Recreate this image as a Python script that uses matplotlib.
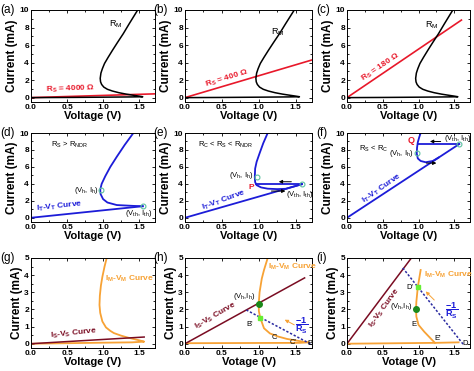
import matplotlib
matplotlib.use("Agg")
import matplotlib.pyplot as plt
from matplotlib.ticker import MultipleLocator

plt.rcParams['font.family'] = ['Liberation Sans', 'DejaVu Sans']
plt.rcParams['mathtext.fontset'] = 'custom'
plt.rcParams['mathtext.rm'] = 'Liberation Sans'
plt.rcParams['mathtext.it'] = 'Liberation Sans:italic'
plt.rcParams['mathtext.bf'] = 'Liberation Sans:bold'
plt.rcParams['mathtext.default'] = 'regular'

BLUE = '#1c1cd8'
RED = '#e8182a'
ORANGE = '#f7a235'
DRED = '#7a0c22'
NAVY = '#2a2aa0'

# ---- row 1: memristor S-curve (V, I) ----
rm_v = [0.0, 0.5, 1.0, 1.4, 1.55, 1.5, 1.42, 1.32, 1.22, 1.13, 1.06, 1.01, 0.98,
        0.965, 0.96, 0.97, 0.99, 1.02, 1.07, 1.13, 1.2, 1.28, 1.36, 1.48]
rm_i = [0.0, 0.02, 0.05, 0.08, 0.1, 0.17, 0.27, 0.4, 0.56, 0.75, 0.95, 1.2, 1.5,
        1.8, 2.2, 2.8, 3.3, 3.9, 4.6, 5.4, 6.3, 7.3, 8.4, 10.0]
rs_a_v, rs_a_i = [0.0, 1.72], [0.0, 0.43]
rs_b_v, rs_b_i = [0.0, 1.72], [0.0, 4.3]
rs_c_v, rs_c_i = [0.0, 1.6], [0.0, 8.85]

# ---- row 2: total I_T-V_T curves ----
d_line_v, d_line_i = [0.0, 1.55], [0.0, 1.36]
d_v = [1.55, 1.42, 1.19, 1.06, 1.0, 0.965, 0.96, 0.98, 1.03, 1.1, 1.19, 1.3, 1.42]
d_i = [1.36, 1.4, 1.5, 1.8, 2.2, 2.8, 3.3, 4.0, 4.9, 6.0, 7.2, 8.6, 10.0]
d_pts_v, d_pts_i = [0.965, 1.55], [3.3, 1.4]

e_line_v, e_line_i = [0.0, 1.58], [0.0, 3.95]
e_v = [1.58, 1.45, 1.37, 1.25, 1.12, 1.03, 0.97, 0.95, 0.945, 0.95, 0.97, 1.01, 1.06, 1.12]
e_i = [3.95, 3.63, 3.42, 3.38, 3.43, 3.58, 3.85, 4.2, 4.8, 5.8, 6.6, 7.6, 8.8, 10.0]
e_jump_v, e_jump_i = [1.58, 0.955], [3.97, 3.97]
e_pts_v, e_pts_i = [0.975, 1.58], [4.8, 3.95]

f_line_v, f_line_i = [0.0, 1.57], [0.0, 8.7]
f_v = [1.28, 1.2, 1.1, 1.03, 0.99, 0.975, 0.98, 0.99, 1.01, 1.03]
f_i = [7.1, 6.7, 6.55, 6.7, 7.0, 7.6, 8.3, 8.9, 9.5, 10.0]
f_jump_v, f_jump_i = [1.57, 0.99], [8.7, 8.7]
f_pts_v, f_pts_i = [0.985, 1.57], [7.6, 8.7]

# ---- row 3: load-line analysis ----
g_v = [0.0, 0.5, 1.0, 1.4, 1.57, 1.5, 1.43, 1.35, 1.25, 1.15, 1.1, 1.04, 0.99,
       0.96, 0.95, 0.955, 0.97, 0.99, 1.02, 1.05]
g_i = [0.0, 0.03, 0.06, 0.08, 0.12, 0.2, 0.27, 0.35, 0.47, 0.62, 0.75, 0.95, 1.3,
       1.8, 2.26, 2.8, 3.4, 3.9, 4.5, 5.0]
g_s_v, g_s_i = [0.0, 1.57], [0.0, 0.39]

h_v = [1.12, 1.07, 1.04, 1.01, 1.0, 1.0, 1.02, 1.07, 1.15, 1.26, 1.38, 1.5, 1.6, 1.67]
h_i = [5.0, 4.3, 3.8, 3.0, 2.4, 1.9, 1.5, 0.9, 0.6, 0.42, 0.28, 0.19, 0.12, 0.08]
h_low_v, h_low_i = [0.0, 1.55, 1.67], [0.03, 0.05, 0.08]
h_s_v, h_s_i = [0.0, 1.62], [0.0, 3.84]
h_load_v, h_load_i = [0.83, 1.72], [1.97, -0.06]
h_vh, h_ih = 1.0, 2.33
h_b_v, h_b_i = 1.02, 1.52

i_v = [1.03, 1.01, 0.99, 0.97, 0.965, 0.97, 1.0, 1.08, 1.16, 1.23]
i_i = [4.3, 3.8, 3.3, 2.45, 2.0, 1.58, 1.1, 0.7, 0.35, 0.05]
i_low_v, i_low_i = [0.0, 1.23, 1.56], [0.0, 0.05, 0.08]
i_s_v, i_s_i = [0.0, 0.9], [0.0, 5.0]
i_load_v, i_load_i = [0.78, 1.63], [4.42, -0.06]
i_vh, i_ih = 0.965, 2.0
i_d_v, i_d_i = 0.99, 3.28

fig = plt.figure(figsize=(4.74, 3.71), dpi=100)
W, H = 474.0, 371.0
cols = [(31, 155), (185, 312), (347, 470)]
rows = [(10, 102), (133, 222), (258, 348)]


def make_ax(r, c, ymax, ystep, xlab='Voltage (V)'):
    x0, x1 = cols[c]
    y0, y1 = rows[r]
    ax = fig.add_axes([x0 / W, 1 - y1 / H, (x1 - x0) / W, (y1 - y0) / H])
    ax.set_xlim(0, 1.72)
    if ymax == 10:
        ax.set_ylim(-0.5, 10)
    else:
        ax.set_ylim(-0.25, 5)
    ax.xaxis.set_major_locator(MultipleLocator(0.5))
    ax.xaxis.set_minor_locator(MultipleLocator(0.25))
    ax.yaxis.set_major_locator(MultipleLocator(ystep))
    ax.yaxis.set_minor_locator(MultipleLocator(ystep / 2))
    ax.tick_params(which='both', direction='in', top=True, right=True,
                   labelsize=6, pad=1.5, width=0.6)
    ax.tick_params(which='major', length=2.5)
    ax.tick_params(which='minor', length=1.5)
    for lab in ax.get_xticklabels() + ax.get_yticklabels():
        lab.set_fontweight('bold')
    for s in ax.spines.values():
        s.set_linewidth(0.7)
    ax.set_xlabel(xlab, fontsize=8, fontweight='bold', labelpad=0)
    ax.set_ylabel('Current (mA)', fontsize=8.5, fontweight='bold', labelpad=1)
    return ax


def panel_label(ax, txt):
    ax.text(-0.25, 1.0, txt, transform=ax.transAxes, fontsize=8.5,
            ha='left', va='center')


def arrow(ax, x0, y0, x1, y1, color='black'):
    ax.annotate('', xy=(x1, y1), xytext=(x0, y0),
                arrowprops=dict(arrowstyle='-|>', color=color, lw=0.7,
                                mutation_scale=5, shrinkA=0, shrinkB=0))


# ---------------- row 1 ----------------
red_labels = [r'R$_\mathbf{S}$ = 4000 Ω', r'R$_\mathbf{S}$ = 400 Ω', r'R$_\mathbf{S}$ = 180 Ω']
red_v = [rs_a_v, rs_b_v, rs_c_v]
red_i = [rs_a_i, rs_b_i, rs_c_i]
red_pos = [(0.2, 0.95, 2), (0.57, 2.2, 17), (0.47, 3.5, 34)]
rm_pos = [(1.18, 8.4), (1.25, 7.5), (1.18, 8.3)]
for c, tag in enumerate(['(a)', '(b)', '(c)']):
    ax = make_ax(0, c, 10, 2)
    ax.plot(rm_v, rm_i, color='black', lw=1.1, zorder=3)
    ax.plot(red_v[c], red_i[c], color=RED, lw=1.2, zorder=2)
    x, y, rot = red_pos[c]
    ax.text(x, y, red_labels[c], color=RED, fontsize=6, fontweight='bold',
            rotation=rot, ha='left' if c == 0 else 'center', va='center')
    ax.text(rm_pos[c][0], rm_pos[c][1], r'R$_M$', fontsize=6.5, ha='center', va='center')
    panel_label(ax, tag)

# ---------------- row 2 ----------------
ax = make_ax(1, 0, 10, 2)
ax.plot(d_line_v, d_line_i, color=BLUE, lw=1.3)
ax.plot(d_v, d_i, color=BLUE, lw=1.3)
ax.plot(d_pts_v, d_pts_i, 'o', ms=3.5, mfc='none', mec='#5cc0a0', mew=0.8)
ax.text(0.28, 8.6, r'R$_S$ > R$_{NDR}$', fontsize=5.5, va='center')
ax.text(0.93, 3.2, r'(V$_h$, I$_h$)', fontsize=5.5, ha='right', va='center')
ax.text(1.5, 0.55, r'(V$_{th}$, I$_{th}$)', fontsize=5.5, ha='center', va='center')
ax.text(0.4, 1.3, r'$\mathbf{I_T}$-$\mathbf{V_T}$ Curve', color=BLUE, fontsize=6,
        fontweight='bold', rotation=6, ha='center', va='center')
panel_label(ax, '(d)')

ax = make_ax(1, 1, 10, 2)
ax.plot(e_line_v, e_line_i, color=BLUE, lw=1.3)
ax.plot(e_v, e_i, color=BLUE, lw=1.3)
ax.plot(e_jump_v, e_jump_i, color=BLUE, lw=1.3)
ax.plot(e_pts_v, e_pts_i, 'o', ms=3.5, mfc='none', mec='#5cc0a0', mew=0.8)
arrow(ax, 1.44, 4.25, 1.27, 4.25)
arrow(ax, 1.17, 3.15, 1.36, 3.15)
ax.text(0.17, 8.6, r'R$_C$ < R$_S$ < R$_{NDR}$', fontsize=5.5, va='center')
ax.text(0.93, 4.95, r'(V$_h$, I$_h$)', fontsize=5.5, ha='right', va='center')
ax.text(1.55, 2.8, r'(V$_{th}$, I$_{th}$)', fontsize=5.5, ha='center', va='center')
ax.text(0.93, 3.6, 'P', color=RED, fontsize=6, fontweight='bold', ha='right', va='center')
ax.text(0.53, 2.1, r'$\mathbf{I_T}$-$\mathbf{V_T}$ Curve', color=BLUE, fontsize=6,
        fontweight='bold', rotation=20, ha='center', va='center')
panel_label(ax, '(e)')

ax = make_ax(1, 2, 10, 2)
ax.plot(f_line_v, f_line_i, color=BLUE, lw=1.3)
ax.plot(f_v, f_i, color=BLUE, lw=1.3)
ax.plot(f_jump_v, f_jump_i, color=BLUE, lw=1.3)
ax.plot(f_pts_v, f_pts_i, 'o', ms=3.5, mfc='none', mec='#5cc0a0', mew=0.8)
arrow(ax, 1.31, 9.0, 1.16, 9.0)
arrow(ax, 1.11, 6.45, 1.25, 6.45)
ax.text(0.17, 8.1, r'R$_S$ < R$_C$', fontsize=5.5, va='center')
ax.text(0.93, 7.6, r'(V$_h$, I$_h$)', fontsize=5.5, ha='right', va='center')
ax.text(1.55, 9.4, r'(V$_{th}$, I$_{th}$)', fontsize=5.5, ha='center', va='center')
ax.text(0.95, 9.1, 'Q', color=RED, fontsize=6.5, fontweight='bold', ha='right', va='center')
ax.text(0.49, 3.5, r'$\mathbf{I_T}$-$\mathbf{V_T}$ Curve', color=BLUE, fontsize=6,
        fontweight='bold', rotation=35, ha='center', va='center')
panel_label(ax, '(f)')

# ---------------- row 3 ----------------
ax = make_ax(2, 0, 5, 1)
ax.plot(g_v, g_i, color=ORANGE, lw=1.3)
ax.plot(g_s_v, g_s_i, color=DRED, lw=1.1)
ax.text(1.03, 3.8, r'$\mathbf{I_M}$-$\mathbf{V_M}$ Curve', color=ORANGE, fontsize=6,
        fontweight='bold', ha='left', va='center')
ax.text(0.6, 0.6, r'$\mathbf{I_S}$-$\mathbf{V_S}$ Curve', color=DRED, fontsize=6,
        fontweight='bold', rotation=6, ha='center', va='center')
panel_label(ax, '(g)')

ax = make_ax(2, 1, 5, 1, 'Votage (V)')
ax.plot(h_low_v, h_low_i, color=ORANGE, lw=1.3)
ax.plot(h_v, h_i, color=ORANGE, lw=1.3)
ax.plot(h_s_v, h_s_i, color=DRED, lw=1.1)
ax.plot(h_load_v, h_load_i, color=NAVY, lw=1.1, ls=(0, (1.5, 1.2)))
ax.plot(h_vh, h_ih, 'o', ms=4, color='#1b8a1b', zorder=5)
ax.plot(h_b_v, h_b_i, 's', ms=3.5, color='#66ee33', zorder=5)
arrow(ax, 1.48, 1.1, 1.35, 1.4, ORANGE)
ax.text(1.12, 4.5, r'$\mathbf{I_M}$-$\mathbf{V_M}$ Curve', color=ORANGE, fontsize=6,
        fontweight='bold', ha='left', va='center')
ax.text(0.42, 1.6, r'$\mathbf{I_S}$-$\mathbf{V_S}$ Curve', color=DRED, fontsize=6,
        fontweight='bold', rotation=30, ha='center', va='center')
ax.text(0.95, 2.75, r'(V$_h$,I$_h$)', fontsize=5.5, ha='right', va='center')
ax.text(0.92, 1.15, "B'", fontsize=5.5, ha='right', va='center')
ax.text(1.21, 0.37, 'C', fontsize=5.5, ha='center', va='center')
ax.text(1.46, 0.1, "C'", fontsize=5.5, ha='center', va='center')
ax.text(1.69, 0.04, 'B', fontsize=5.5, ha='center', va='center')
ax.text(1.58, 1.05, r'$\mathbf{\dfrac{-1}{R_S}}$', color=BLUE, fontsize=6.5,
        ha='center', va='center')
panel_label(ax, '(h)')

ax = make_ax(2, 2, 5, 1, 'Votage (V)')
ax.plot(i_low_v, i_low_i, color=ORANGE, lw=1.3)
ax.plot(i_v, i_i, color=ORANGE, lw=1.3)
ax.plot(i_s_v, i_s_i, color=DRED, lw=1.1)
ax.plot(i_load_v, i_load_i, color=NAVY, lw=1.1, ls=(0, (1.5, 1.2)))
ax.plot(i_vh, i_ih, 'o', ms=4, color='#1b8a1b', zorder=5)
ax.plot(i_d_v, i_d_i, 's', ms=3.5, color='#66ee33', zorder=5)
arrow(ax, 1.22, 2.55, 1.1, 3.05, ORANGE)
ax.text(1.08, 4.0, r'$\mathbf{I_M}$-$\mathbf{V_M}$ Curve', color=ORANGE, fontsize=6,
        fontweight='bold', ha='left', va='center')
ax.text(0.53, 2.1, r'$\mathbf{I_S}$-$\mathbf{V_S}$ Curve', color=DRED, fontsize=6,
        fontweight='bold', rotation=54, ha='center', va='center')
ax.text(0.92, 2.15, r'(V$_h$,I$_h$)', fontsize=5.5, ha='right', va='center')
ax.text(0.93, 3.3, "D'", fontsize=5.5, ha='right', va='center')
ax.text(0.94, 1.1, 'E', fontsize=5.5, ha='center', va='center')
ax.text(1.27, 0.3, "E'", fontsize=5.5, ha='center', va='center')
ax.text(1.65, 0.03, 'D', fontsize=5.5, ha='center', va='center')
ax.text(1.46, 1.9, r'$\mathbf{\dfrac{-1}{R_S}}$', color=BLUE, fontsize=6.5,
        ha='center', va='center')
panel_label(ax, '(i)')

fig.savefig('out.png', dpi=100)
